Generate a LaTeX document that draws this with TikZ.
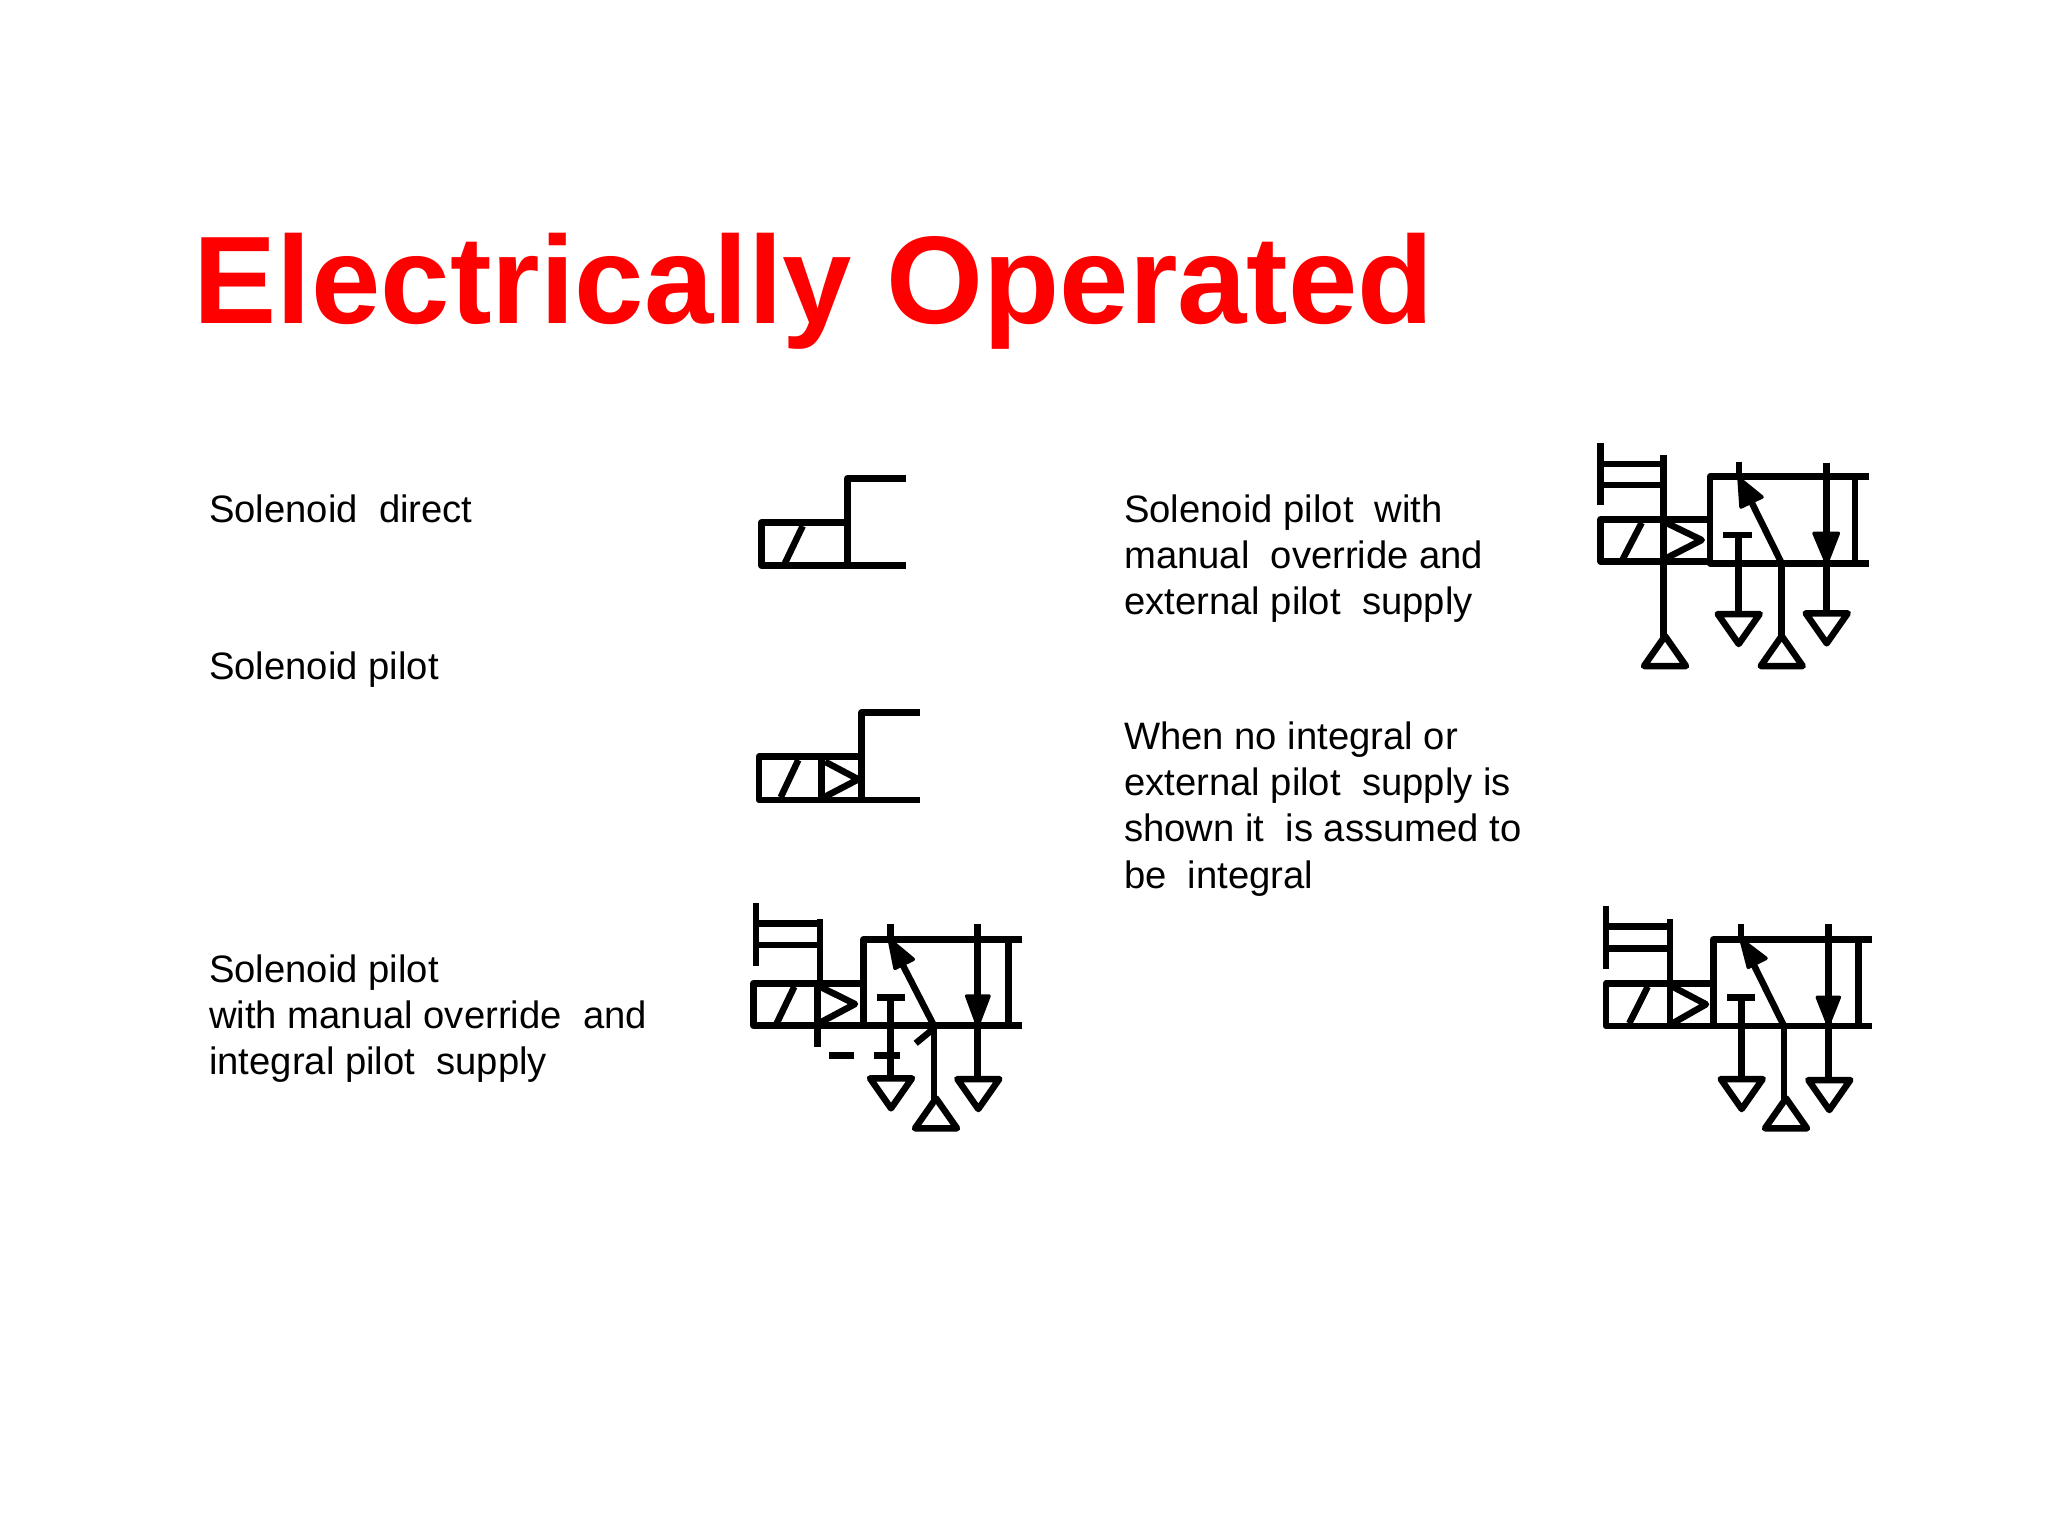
\documentclass[tikz,border=0pt]{standalone}
\usepackage{fontspec}
\setmainfont{Liberation Sans}
\tikzset{
	symline/.style={line width=0.065cm, line join=round},
	flowhead/.style={fill=black, line width=0.035cm, line join=round},
	caption/.style={anchor=north west, inner sep=0pt, align=left, font=\fontsize{10.87}{13.2}\selectfont},
}
\def\exhaust(#1,#2){\draw[symline] (#1-21,#2) -- (#1+21,#2) -- (#1,#2+30) -- cycle;}
\def\supply(#1,#2){\draw[symline] (#1-21,#2) -- (#1+21,#2) -- (#1,#2-30) -- cycle;}

\begin{document}
\begin{tikzpicture}[x=0.01cm, y=-0.01cm]
	\useasboundingbox (0,0) rectangle (2048,1536);
	
	%%%%% TITLE AND TEXTS %%%%%
	\node[anchor=base west, inner sep=0pt, text=red, font=\fontsize{35.45}{40}\selectfont\bfseries] (title) at (193,323) {Electrically Operated};
	
	\node[caption] (direct) at (208.5,493.7) {Solenoid\ \ direct};
	\node[caption] (pilot) at (208.5,650.7) {Solenoid pilot};
	\node[caption] (integral) at (208.5,953.7) {Solenoid pilot\\with manual override\ \ and\\integral pilot\ \ supply};
	\node[caption] (external) at (1123.5,493.7) {Solenoid pilot\ \ with\\manual\ \ override and\\external pilot\ \ supply};
	\node[caption] (assumed) at (1123.5,720.7) {When no integral or\\external pilot\ \ supply is\\shown it\ \ is assumed to\\be\ \ integral};
	
	%%%%% SOLENOID DIRECT %%%%%
	\draw[symline] (905.7,478.3) -- (847.3,478.3) -- (847.3,565.7);
	\draw[symline] (847.3,522.7) -- (761.7,522.7) -- (761.7,565.7) -- (905.7,565.7);
	\draw[symline] (785,563) -- (802.7,526);
	
	%%%%% SOLENOID PILOT %%%%%
	\draw[symline] (920,712.7) -- (861.7,712.7) -- (861.7,800);
	\draw[symline] (861.7,756.7) -- (759,756.7) -- (759,800) -- (920,800);
	\draw[symline] (780.7,797.3) -- (798.3,760);
	\draw[symline] (821.7,756.7) -- (821.7,800);
	\draw[symline] (825,761.7) -- (858.3,779.3) -- (825,796.7);
	
	%%%%% OVERRIDE WITH INTEGRAL SUPPLY %%%%%
	\draw[symline] (756,903.3) -- (756,966);
	\draw[symline] (756,923.3) -- (820,923.3);
	\draw[symline] (756,945) -- (820,945);
	\draw[symline] (820,919.3) -- (820,983.3);
	\draw[symline] (817.3,983.3) -- (817.3,1046.7);
	\draw[symline] (863.3,983.3) -- (753.3,983.3) -- (753.3,1025.7) -- (863.3,1025.7);
	\draw[symline] (776.7,1023.3) -- (794.3,986.7);
	\draw[symline] (820,986.7) -- (855,1004) -- (820,1022.7);
	\draw[symline] (1022.3,939.3) -- (863.3,939.3) -- (863.3,1025.7) -- (1022.3,1025.7);
	\draw[symline] (1008.3,939.3) -- (1008.3,1025.7);
	\draw[symline] (890.3,924) -- (890.3,939.3);
	\draw[symline] (934,1025.7) -- (893,946);
	\draw[flowhead] (889.3,939.3) -- (895,968.3) -- (913.3,959.3) -- cycle;
	\draw[symline] (977.7,924) -- (977.7,1079);
	\draw[flowhead] (977.7,1025.7) -- (966.7,996) -- (989,996) -- cycle;
	\draw[symline] (877,997.3) -- (905,997.3);
	\draw[symline] (890.3,997.3) -- (890.3,1078.3);
	\draw[symline] (828.7,1055.7) -- (854.3,1055.7);
	\draw[symline] (874,1055.7) -- (900,1055.7);
	\draw[symline] (915.7,1043.3) -- (934,1028.3);
	\draw[symline] (934,1025.7) -- (934,1100);
	\exhaust(891,1078.3)
	\exhaust(978.3,1079)
	\supply(936,1128.3)
	
	%%%%% OVERRIDE WITH EXTERNAL SUPPLY %%%%%
	\draw[symline] (1600.7,443.3) -- (1600.7,505);
	\draw[symline] (1600.7,464) -- (1663.3,464);
	\draw[symline] (1600.7,485) -- (1663.3,485);
	\draw[symline] (1663.3,455) -- (1663.3,637);
	\draw[symline] (1710,519.3) -- (1600.7,519.3) -- (1600.7,561.7) -- (1710,561.7);
	\draw[symline] (1622.7,559.3) -- (1641.7,522.7);
	\draw[symline] (1666,522.7) -- (1701.7,540) -- (1666,558.3);
	\draw[symline] (1869.3,476.7) -- (1710,476.7) -- (1710,563.3) -- (1869.3,563.3);
	\draw[symline] (1855,476.7) -- (1855,563.3);
	\draw[symline] (1739,461.7) -- (1739,476.7);
	\draw[symline] (1781.7,563.3) -- (1743,485);
	\draw[flowhead] (1739,478.3) -- (1741,507) -- (1762,497) -- cycle;
	\draw[symline] (1826.7,462.7) -- (1826.7,613.3);
	\draw[flowhead] (1826.7,563.3) -- (1814,533.3) -- (1838.3,533.3) -- cycle;
	\draw[symline] (1723.3,535) -- (1752.3,535);
	\draw[symline] (1738.3,535) -- (1738.3,614);
	\draw[symline] (1781.7,563.3) -- (1781.7,637);
	\exhaust(1738.7,614)
	\exhaust(1826.7,613.3)
	\supply(1665,666)
	\supply(1781.7,666)
	
	%%%%% OVERRIDE, SUPPLY NOT SHOWN %%%%%
	\draw[symline] (1606,906) -- (1606,969.3);
	\draw[symline] (1606,926.7) -- (1670,926.7);
	\draw[symline] (1606,948.3) -- (1670,948.3);
	\draw[symline] (1670,919.3) -- (1670,1026);
	\draw[symline] (1713.3,983.3) -- (1606,983.3) -- (1606,1026) -- (1713.3,1026);
	\draw[symline] (1629.3,1023.3) -- (1647.7,986.7);
	\draw[symline] (1672.7,986.7) -- (1706,1004.3) -- (1672.7,1023.3);
	\draw[symline] (1872.3,939.3) -- (1713.3,939.3) -- (1713.3,1026) -- (1872.3,1026);
	\draw[symline] (1858.3,939.3) -- (1858.3,1026);
	\draw[symline] (1741,924.3) -- (1741,939.3);
	\draw[symline] (1784,1026) -- (1745,947);
	\draw[flowhead] (1741,939.3) -- (1748.3,967.3) -- (1766,958.3) -- cycle;
	\draw[symline] (1828.3,924.3) -- (1828.3,1079);
	\draw[flowhead] (1828.3,1025) -- (1817.3,997.3) -- (1839.3,997.3) -- cycle;
	\draw[symline] (1727,997.3) -- (1755,997.3);
	\draw[symline] (1741.7,997.3) -- (1741.7,1079);
	\draw[symline] (1784,1026) -- (1784,1101.7);
	\exhaust(1741.7,1079)
	\exhaust(1829.3,1080)
	\supply(1786,1128.3)
	
	%%%%% END %%%%%
\end{tikzpicture}
\end{document}
